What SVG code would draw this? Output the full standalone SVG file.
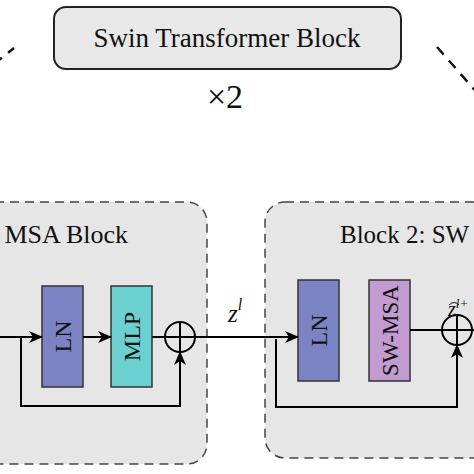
<svg xmlns="http://www.w3.org/2000/svg" width="474" height="474" viewBox="0 0 474 474">
<style>
.blk{fill:#e6e6e6;stroke:#444;stroke-width:1.5;stroke-dasharray:9,6}
.box{stroke:#333;stroke-width:1.5}
.ln{fill:#7b83c2}
.mlp{fill:#6ccfd0}
.sw{fill:#c29bd0}
.t{font-family:"Liberation Serif","Times New Roman",serif;fill:#111}
.wire{fill:none;stroke:#000;stroke-width:2}
.dash{fill:none;stroke:#111;stroke-width:2.5;stroke-dasharray:10,8}
</style>
<defs>
<marker id="ah" viewBox="0 0 14 12" markerWidth="14" markerHeight="12" refX="13" refY="6" orient="auto" markerUnits="userSpaceOnUse">
<path d="M0,0 L14,6 L0,12 L4,6 z" fill="#000"/>
</marker>
</defs>
<g id="guide-lines">
<line class="dash" x1="-6" y1="64" x2="14" y2="48"/>
<line class="dash" x1="437" y1="47" x2="480" y2="96"/>
</g>
<g id="swin-block">
<rect x="54" y="7" width="347" height="62" rx="12" fill="#e8e8e8" stroke="#222" stroke-width="2"/>
<text class="t" x="227" y="47" font-size="27" text-anchor="middle">Swin Transformer Block</text>
</g>
<text id="times2" class="t" x="225" y="108" font-size="34" text-anchor="middle">×2</text>
<g id="block1">
<rect class="blk" x="-40" y="202" width="247" height="262" rx="20"/>
<text class="t" x="128" y="243" font-size="26" text-anchor="end">MSA Block</text>
</g>
<g id="block2">
<rect class="blk" x="265" y="202" width="260" height="256" rx="20"/>
<text class="t" x="340" y="243" font-size="25">Block 2: SW</text>
</g>
<g id="ln1">
<rect class="box ln" x="42" y="286" width="41" height="101"/>
<text class="t" transform="translate(62.5,336.5) rotate(-90)" font-size="24" text-anchor="middle" dy="8">LN</text>
</g>
<g id="mlp">
<rect class="box mlp" x="111" y="286" width="41" height="101"/>
<text class="t" transform="translate(131.5,336.5) rotate(-90)" font-size="24" text-anchor="middle" dy="8">MLP</text>
</g>
<g id="add1">
<circle cx="180" cy="337" r="15" fill="none" stroke="#000" stroke-width="2"/>
<line x1="165" y1="337" x2="195" y2="337" stroke="#000" stroke-width="2"/>
<line x1="180" y1="322" x2="180" y2="352" stroke="#000" stroke-width="2"/>
</g>
<g id="ln2">
<rect class="box ln" x="298" y="280" width="41" height="101"/>
<text class="t" transform="translate(318.5,330.5) rotate(-90)" font-size="24" text-anchor="middle" dy="8">LN</text>
</g>
<g id="swmsa">
<rect class="box sw" x="369" y="280" width="41" height="101"/>
<text class="t" transform="translate(389.5,330.5) rotate(-90)" font-size="23" text-anchor="middle" dy="8">SW-MSA</text>
</g>
<g id="add2">
<circle cx="457" cy="330" r="15" fill="none" stroke="#000" stroke-width="2"/>
<line x1="442" y1="330" x2="474" y2="330" stroke="#000" stroke-width="2"/>
<line x1="457" y1="315" x2="457" y2="345" stroke="#000" stroke-width="2"/>
</g>
<g id="connectors">
<line class="wire" x1="0" y1="337" x2="42" y2="337" marker-end="url(#ah)"/>
<line class="wire" x1="83" y1="337" x2="111" y2="337" marker-end="url(#ah)"/>
<line class="wire" x1="152" y1="337" x2="165" y2="337"/>
<path class="wire" d="M21,337 V406 H180 V352" marker-end="url(#ah)"/>
<line class="wire" x1="195" y1="337" x2="298" y2="337" marker-end="url(#ah)"/>
<path class="wire" d="M276,339 V407 H457 V345" marker-end="url(#ah)"/>
<line class="wire" x1="410" y1="330" x2="442" y2="330"/>
</g>
<g id="labels">
<text class="t" x="228" y="322" font-size="25" font-style="italic">z<tspan font-size="16" dy="-12">l</tspan></text>
<text class="t" x="448" y="316" font-size="20" font-style="italic">z<tspan font-size="13" dy="-8">l+</tspan></text>
<path d="M449,305 Q454,300 459,305" fill="none" stroke="#111" stroke-width="1"/>
</g>
</svg>
